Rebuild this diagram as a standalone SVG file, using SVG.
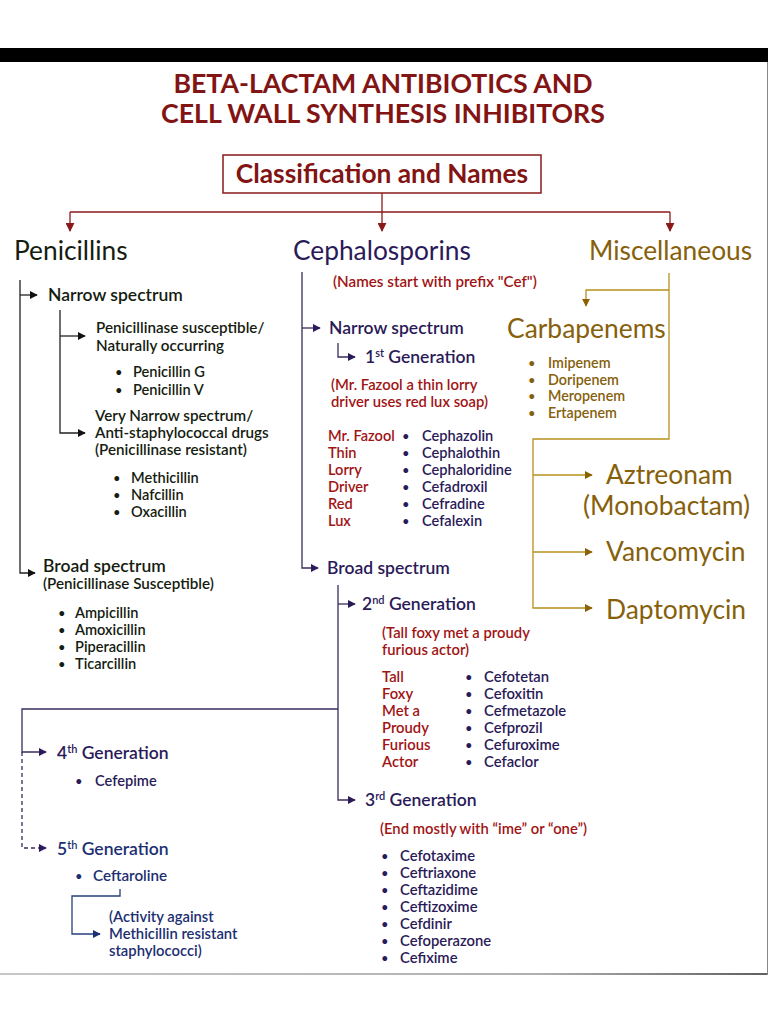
<svg xmlns="http://www.w3.org/2000/svg" width="768" height="1024" viewBox="0 0 768 1024">
<defs>
<style>
text{font-family:Lato,"Open Sans","Liberation Sans",sans-serif}
.title{font-size:26.7px;font-weight:bold;fill:#821414;text-anchor:middle}
.hd{font-size:26.3px;font-weight:bold;fill:#821414;text-anchor:middle}
.big{font-size:26.3px}
.pen{fill:#151c10}
.cep{fill:#2a1a58}
.mis{fill:#86600a}
.red{fill:#a01414}
.blu{fill:#1c2f72}
.h{font-size:17.5px;font-weight:600}
.s15{font-size:15.2px;font-weight:600}
.s14{font-size:14.6px;font-weight:600}
.s148{font-size:14.8px;font-weight:600}
.s143{font-size:14.3px;font-weight:600}
.b{font-size:13px;font-weight:normal}
.s26{font-size:26.4px}
.sup{font-size:11px}
.ln{fill:none;stroke-width:1.3}
.lr{stroke:#8a1a1a}
.lk{stroke:#222}
.lp{stroke:#3a2c5c}
.lg{stroke:#b8901e}
.lb{stroke:#24407a}
</style>
<linearGradient id="sh" x1="0" x2="1" y1="0" y2="0"><stop offset="0" stop-color="#c8c8c8"/><stop offset="0.7" stop-color="#b0b0b0"/><stop offset="1" stop-color="#606060"/></linearGradient>
<marker id="ar" viewBox="0 0 10 10" refX="9" refY="5" markerWidth="9" markerHeight="9" markerUnits="userSpaceOnUse" orient="auto"><path d="M0,0L10,5L0,10z" fill="#8a1a1a"/></marker>
<marker id="ak" viewBox="0 0 10 10" refX="9" refY="5" markerWidth="8" markerHeight="8" markerUnits="userSpaceOnUse" orient="auto"><path d="M0,0L10,5L0,10z" fill="#111"/></marker>
<marker id="ap" viewBox="0 0 10 10" refX="9" refY="5" markerWidth="8" markerHeight="8" markerUnits="userSpaceOnUse" orient="auto"><path d="M0,0L10,5L0,10z" fill="#2a1a58"/></marker>
<marker id="ag" viewBox="0 0 10 10" refX="9" refY="5" markerWidth="8" markerHeight="8" markerUnits="userSpaceOnUse" orient="auto"><path d="M0,0L10,5L0,10z" fill="#8a6000"/></marker>
<marker id="ab" viewBox="0 0 10 10" refX="9" refY="5" markerWidth="8" markerHeight="8" markerUnits="userSpaceOnUse" orient="auto"><path d="M0,0L10,5L0,10z" fill="#1c2f72"/></marker>
</defs>
<rect width="768" height="1024" fill="#fff"/>
<rect x="0" y="48" width="768" height="14" fill="#000"/>
<rect x="0" y="973" width="768" height="2" fill="url(#sh)"/>
<line x1="767.5" y1="62" x2="767.5" y2="975" stroke="#888" stroke-width="1"/>

<g id="title">
<text class="title" x="383" y="93">BETA-LACTAM ANTIBIOTICS AND</text>
<text class="title" x="383" y="123">CELL WALL SYNTHESIS INHIBITORS</text>
</g>

<g id="root">
<rect x="223" y="155" width="318" height="38" fill="#fff" stroke="#8a1a1a" stroke-width="1.5"/>
<text class="hd" x="382" y="183">Classification and Names</text>
</g>

<g id="connectors">
<path class="ln lr" d="M70,212H670"/>
<path class="ln lr" d="M70,212V231" marker-end="url(#ar)"/>
<path class="ln lr" d="M382,193V231" marker-end="url(#ar)"/>
<path class="ln lr" d="M670,212V231" marker-end="url(#ar)"/>

<path class="ln lk" d="M20,280V573H35" marker-end="url(#ak)"/>
<path class="ln lk" d="M20,295H37" marker-end="url(#ak)"/>
<path class="ln lk" d="M60,310V433H85" marker-end="url(#ak)"/>
<path class="ln lk" d="M60,336H85" marker-end="url(#ak)"/>

<path class="ln lp" d="M302,272V568H318" marker-end="url(#ap)"/>
<path class="ln lp" d="M302,328H320" marker-end="url(#ap)"/>
<path class="ln lp" d="M338,343V357H355" marker-end="url(#ap)"/>
<path class="ln lp" d="M338,585V800H355" marker-end="url(#ap)"/>
<path class="ln lp" d="M338,604H355" marker-end="url(#ap)"/>
<path class="ln lp" d="M338,709H22V752H46" marker-end="url(#ap)"/>
<path class="ln lp" d="M22,752V848H46" stroke-dasharray="4,3" marker-end="url(#ap)"/>
<path class="ln lb" d="M120,889V896H72V934H100" marker-end="url(#ab)"/>

<path class="ln lg" d="M669,273V439H533V608H592" marker-end="url(#ag)"/>
<path class="ln lg" d="M669,290H586V306" marker-end="url(#ag)"/>
<path class="ln lg" d="M533,475H592" marker-end="url(#ag)"/>
<path class="ln lg" d="M533,552H592" marker-end="url(#ag)"/>
</g>

<g id="penicillins">
<text class="big pen" x="14" y="260">Penicillins</text>
<text class="h pen" x="48" y="301">Narrow spectrum</text>
<text class="s15 pen" x="96" y="333">Penicillinase susceptible/</text>
<text class="s15 pen" x="96" y="351">Naturally occurring</text>
<text class="b pen" x="115" y="377">•</text><text class="s14 pen" x="133" y="377">Penicillin G</text>
<text class="b pen" x="115" y="395">•</text><text class="s14 pen" x="133" y="395">Penicillin V</text>
<text class="s15 pen" x="95" y="421">Very Narrow spectrum/</text>
<text class="s15 pen" x="95" y="438">Anti-staphylococcal drugs</text>
<text class="s15 pen" x="95" y="455">(Penicillinase resistant)</text>
<text class="b pen" x="113" y="483">•</text><text class="s14 pen" x="131" y="483">Methicillin</text>
<text class="b pen" x="113" y="500">•</text><text class="s14 pen" x="131" y="500">Nafcillin</text>
<text class="b pen" x="113" y="517">•</text><text class="s14 pen" x="131" y="517">Oxacillin</text>
<text class="h pen" x="43" y="572">Broad spectrum</text>
<text class="s15 pen" x="43" y="589">(Penicillinase Susceptible)</text>
<text class="b pen" x="58" y="618">•</text><text class="s14 pen" x="75" y="618">Ampicillin</text>
<text class="b pen" x="58" y="635">•</text><text class="s14 pen" x="75" y="635">Amoxicillin</text>
<text class="b pen" x="58" y="652">•</text><text class="s14 pen" x="75" y="652">Piperacillin</text>
<text class="b pen" x="58" y="669">•</text><text class="s14 pen" x="75" y="669">Ticarcillin</text>
</g>

<g id="cephalosporins">
<text class="big cep" x="293" y="260">Cephalosporins</text>
<text class="s15 red" x="333" y="287">(Names start with prefix "Cef")</text>
<text class="h cep" x="329" y="334">Narrow spectrum</text>
<text class="h cep" x="365" y="363">1<tspan class="sup" dy="-6">st</tspan><tspan dy="6"> Generation</tspan></text>
<text class="s148 red" x="331" y="390">(Mr. Fazool a thin lorry</text>
<text class="s148 red" x="331" y="407">driver uses red lux soap)</text>
<g class="s14 red">
<text x="328" y="441">Mr. Fazool</text>
<text x="328" y="458">Thin</text>
<text x="328" y="475">Lorry</text>
<text x="328" y="492">Driver</text>
<text x="328" y="509">Red</text>
<text x="328" y="526">Lux</text>
</g>
<g class="s14 cep">
<text class="b" x="402" y="441">•</text><text x="422" y="441">Cephazolin</text>
<text class="b" x="402" y="458">•</text><text x="422" y="458">Cephalothin</text>
<text class="b" x="402" y="475">•</text><text x="422" y="475">Cephaloridine</text>
<text class="b" x="402" y="492">•</text><text x="422" y="492">Cefadroxil</text>
<text class="b" x="402" y="509">•</text><text x="422" y="509">Cefradine</text>
<text class="b" x="402" y="526">•</text><text x="422" y="526">Cefalexin</text>
</g>
<text class="h cep" x="327" y="574">Broad spectrum</text>
<text class="h cep" x="362" y="610">2<tspan class="sup" dy="-6">nd</tspan><tspan dy="6"> Generation</tspan></text>
<text class="s148 red" x="382" y="638">(Tall foxy met a proudy</text>
<text class="s148 red" x="382" y="655">furious actor)</text>
<g class="s148 red">
<text x="382" y="682">Tall</text>
<text x="382" y="699">Foxy</text>
<text x="382" y="716">Met a</text>
<text x="382" y="733">Proudy</text>
<text x="382" y="750">Furious</text>
<text x="382" y="767">Actor</text>
</g>
<g class="s148 cep">
<text class="b" x="465" y="682">•</text><text x="484" y="682">Cefotetan</text>
<text class="b" x="465" y="699">•</text><text x="484" y="699">Cefoxitin</text>
<text class="b" x="465" y="716">•</text><text x="484" y="716">Cefmetazole</text>
<text class="b" x="465" y="733">•</text><text x="484" y="733">Cefprozil</text>
<text class="b" x="465" y="750">•</text><text x="484" y="750">Cefuroxime</text>
<text class="b" x="465" y="767">•</text><text x="484" y="767">Cefaclor</text>
</g>
<text class="h cep" x="365" y="806">3<tspan class="sup" dy="-6">rd</tspan><tspan dy="6"> Generation</tspan></text>
<text class="s148 red" x="380" y="834">(End mostly with “ime” or “one”)</text>
<g class="s148 cep">
<text class="b" x="381" y="861">•</text><text x="400" y="861">Cefotaxime</text>
<text class="b" x="381" y="878">•</text><text x="400" y="878">Ceftriaxone</text>
<text class="b" x="381" y="895">•</text><text x="400" y="895">Ceftazidime</text>
<text class="b" x="381" y="912">•</text><text x="400" y="912">Ceftizoxime</text>
<text class="b" x="381" y="929">•</text><text x="400" y="929">Cefdinir</text>
<text class="b" x="381" y="946">•</text><text x="400" y="946">Cefoperazone</text>
<text class="b" x="381" y="963">•</text><text x="400" y="963">Cefixime</text>
</g>
<text class="h cep" x="57" y="759">4<tspan class="sup" dy="-6">th</tspan><tspan dy="6"> Generation</tspan></text>
<text class="b cep" x="75" y="786">•</text><text class="s14 cep" x="95" y="786">Cefepime</text>
<text class="h blu" x="57" y="855">5<tspan class="sup" dy="-6">th</tspan><tspan dy="6"> Generation</tspan></text>
<text class="b blu" x="75" y="881">•</text><text class="s15 blu" x="93" y="881">Ceftaroline</text>
<text class="s148 blu" x="109" y="922">(Activity against</text>
<text class="s148 blu" x="109" y="939">Methicillin resistant</text>
<text class="s148 blu" x="109" y="956">staphylococci)</text>
</g>

<g id="miscellaneous">
<text class="big mis" x="589" y="260">Miscellaneous</text>
<text class="s26 mis" x="507" y="338">Carbapenems</text>
<g class="s143 mis">
<text class="b" x="528" y="368">•</text><text x="548" y="368">Imipenem</text>
<text class="b" x="528" y="385">•</text><text x="548" y="385">Doripenem</text>
<text class="b" x="528" y="401">•</text><text x="548" y="401">Meropenem</text>
<text class="b" x="528" y="418">•</text><text x="548" y="418">Ertapenem</text>
</g>
<text class="s26 mis" x="606" y="484">Aztreonam</text>
<text class="s26 mis" x="583" y="515">(Monobactam)</text>
<text class="s26 mis" x="606" y="561">Vancomycin</text>
<text class="s26 mis" x="606" y="619">Daptomycin</text>
</g>
</svg>
